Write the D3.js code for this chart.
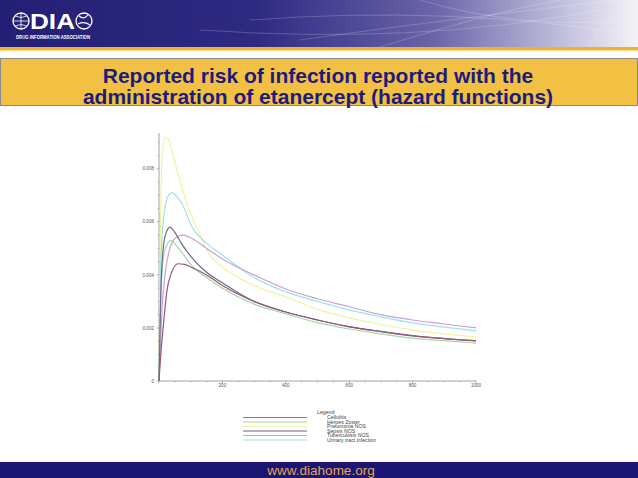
<!DOCTYPE html>
<html><head><meta charset="utf-8">
<script src="https://cdn.jsdelivr.net/npm/d3@7"></script>
<style>html,body{margin:0;padding:0;background:#fff;}svg{display:block;}</style>
</head><body>
<script>
const titleLines = ["Reported risk of infection reported with the", "administration of etanercept (hazard functions)"];
const seriesNames = ["Cellulitis", "Herpes Zoster", "Pneumonia NOS", "Sepsis NOS", "Tuberculosis NOS", "Urinary tract infection"];
const seriesColors = ["#b8687f", "#a2d9a2", "#f2f4a6", "#6a6490", "#c8a0d8", "#a2e0ea"];
const xTicks = [0, 200, 400, 600, 800, 1000];
const yTicks = [0, 0.002, 0.004, 0.006, 0.008];
const yTickLabels = ["0", "0.002", "0.004", "0.006", "0.008"];

const cellulitisX = [0, 5, 13, 25, 40, 60, 80, 100, 150, 200, 300, 400, 500, 600, 700, 800, 900, 1000];
const cellulitisY = [0, 0.0009, 0.0020, 0.0034, 0.0041, 0.00442, 0.0044, 0.0043, 0.0040, 0.0036, 0.0030, 0.0026, 0.0023, 0.00205, 0.00187, 0.00171, 0.0016, 0.00152];
const herpesX = [0, 5, 10, 20, 38, 55, 75, 100, 150, 200, 300, 400, 500, 600, 700, 800, 900, 1000];
const herpesY = [0, 0.0028, 0.0042, 0.0050, 0.0053, 0.0051, 0.0048, 0.0044, 0.0039, 0.0035, 0.0029, 0.00253, 0.0022, 0.00196, 0.00178, 0.00162, 0.00152, 0.00143];
const pneumoniaX = [0, 5, 10, 20, 30, 45, 60, 80, 100, 130, 160, 200, 300, 400, 500, 600, 700, 800, 900, 1000];
const pneumoniaY = [0, 0.0060, 0.0085, 0.0092, 0.0091, 0.0085, 0.0078, 0.0070, 0.0063, 0.0055, 0.00475, 0.0043, 0.0036, 0.00317, 0.0027, 0.00238, 0.00213, 0.00192, 0.00178, 0.00166];
const sepsisX = [0, 5, 10, 20, 35, 50, 70, 100, 150, 200, 300, 400, 500, 600, 700, 800, 900, 1000];
const sepsisY = [0, 0.0030, 0.0045, 0.0055, 0.0058, 0.0056, 0.0052, 0.0047, 0.0041, 0.0037, 0.0030, 0.0026, 0.0023, 0.00204, 0.00186, 0.0017, 0.0016, 0.00151];
const tbX = [0, 5, 10, 20, 30, 45, 60, 76, 100, 150, 200, 300, 400, 500, 600, 700, 800, 900, 1000];
const tbY = [0, 0.0015, 0.0028, 0.0041, 0.0048, 0.0053, 0.00545, 0.0055, 0.0054, 0.0050, 0.0046, 0.0040, 0.00347, 0.0031, 0.0028, 0.0025, 0.0023, 0.00215, 0.0020];
const utiX = [0, 5, 10, 20, 30, 41, 60, 80, 100, 150, 200, 300, 400, 500, 600, 700, 800, 900, 1000];
const utiY = [0, 0.0040, 0.0055, 0.0066, 0.0070, 0.0071, 0.0069, 0.0065, 0.0059, 0.0052, 0.00475, 0.0039, 0.00336, 0.0030, 0.00268, 0.00242, 0.00219, 0.00203, 0.00189];

const seriesX = [cellulitisX, herpesX, pneumoniaX, sepsisX, tbX, utiX];
const seriesY = [cellulitisY, herpesY, pneumoniaY, sepsisY, tbY, utiY];
const drawOrder = [2, 5, 4, 1, 3, 0];

const W = 638, H = 478;
const svg = d3.select("body").append("svg").attr("width", W).attr("height", H);
const defs = svg.append("defs");
const grad = defs.append("linearGradient").attr("id", "hdr").attr("x1", 0).attr("x2", 1).attr("y1", 0).attr("y2", 0);
grad.append("stop").attr("offset", "0").attr("stop-color", "#231f74");
grad.append("stop").attr("offset", "0.4").attr("stop-color", "#2e2a82");
grad.append("stop").attr("offset", "0.68").attr("stop-color", "#6a64a8");
grad.append("stop").attr("offset", "0.87").attr("stop-color", "#bcb9da");
grad.append("stop").attr("offset", "1").attr("stop-color", "#f4f4f8");

svg.append("rect").attr("x", 0).attr("y", 0).attr("width", W).attr("height", 47).attr("fill", "url(#hdr)");
const arcs = svg.append("g").attr("fill", "none").attr("stroke", "#ffffff").attr("stroke-opacity", 0.25).attr("stroke-width", 0.8);
arcs.append("path").attr("d", "M250,20 Q450,5 638,35");
arcs.append("path").attr("d", "M300,40 Q480,15 620,0");
arcs.append("path").attr("d", "M380,47 Q500,10 560,0");
arcs.append("path").attr("d", "M420,0 Q520,30 638,20");
arcs.append("path").attr("d", "M590,47 Q600,20 638,0");
arcs.append("path").attr("d", "M200,30 Q420,45 600,10");
svg.append("rect").attr("x", 0).attr("y", 47).attr("width", W).attr("height", 3.5).attr("fill", "#f2b32a");

const logo = svg.append("g");
logo.append("circle").attr("cx", 21).attr("cy", 21).attr("r", 8).attr("fill", "none").attr("stroke", "#fff").attr("stroke-width", 1.3);
logo.append("path").attr("d", "M13,21 H29 M21,13 V29 M15,16 Q21,19 27,16 M15,26 Q21,23 27,26").attr("stroke", "#fff").attr("stroke-width", 0.8).attr("fill", "none");
logo.append("text").attr("x", 30).attr("y", 29).attr("font-family", "Arial Black, Liberation Sans, Arial, sans-serif").attr("font-weight", "900").attr("font-size", 22).attr("fill", "#fff").attr("textLength", 45).attr("lengthAdjust", "spacingAndGlyphs").text("DIA");
logo.append("circle").attr("cx", 84).attr("cy", 21).attr("r", 8).attr("fill", "none").attr("stroke", "#fff").attr("stroke-width", 1.3);
logo.append("path").attr("d", "M79,16 Q84,20 88,15 M78,24 Q84,21 90,25").attr("stroke", "#fff").attr("stroke-width", 1.2).attr("fill", "none");
logo.append("text").attr("x", 16).attr("y", 39).attr("font-family", "Liberation Sans, Arial, sans-serif").attr("font-weight", "bold").attr("font-size", 4.6).attr("fill", "#fff").attr("textLength", 74).attr("lengthAdjust", "spacingAndGlyphs").text("DRUG INFORMATION ASSOCIATION");

svg.append("rect").attr("x", 0.5).attr("y", 58.5).attr("width", W - 1).attr("height", 47).attr("fill", "#f2c043").attr("stroke", "#8a8a8a").attr("stroke-width", 1);
svg.selectAll("text.title").data(titleLines).join("text").attr("class", "title")
  .attr("x", 318).attr("y", (d, i) => 83 + i * 21).attr("text-anchor", "middle")
  .attr("font-family", "Liberation Sans, Arial, sans-serif").attr("font-weight", "bold").attr("font-size", 21)
  .attr("fill", "#1c1c7e").text(d => d);

const x = d3.scaleLinear().domain([0, 1000]).range([159, 476]);
const y = d3.scaleLinear().domain([0, 0.00935]).range([381, 133]);
const axisCol = "#8c8c8c";
const g = svg.append("g");
const xMinor = d3.range(0, 1001, 50);
g.selectAll("line.xm").data(xMinor).join("line").attr("x1", d => x(d)).attr("x2", d => x(d)).attr("y1", 381).attr("y2", d => d % 200 === 0 ? 383.5 : 382.5).attr("stroke", axisCol).attr("stroke-width", 0.6);
const yMinor = d3.range(0, 0.0093, 0.0005);
g.selectAll("line.ym").data(yMinor).join("line").attr("x1", 159).attr("x2", (d, i) => i % 4 === 0 ? 156.5 : 157.5).attr("y1", d => y(d)).attr("y2", d => y(d)).attr("stroke", axisCol).attr("stroke-width", 0.6);
g.append("line").attr("x1", 159).attr("x2", 476).attr("y1", 381).attr("y2", 381).attr("stroke", axisCol).attr("stroke-width", 0.8);
g.append("line").attr("x1", 159).attr("x2", 159).attr("y1", 133).attr("y2", 381).attr("stroke", axisCol).attr("stroke-width", 0.8);
g.selectAll("text.yl").data(yTicks).join("text").attr("class", "yl").attr("x", 154).attr("y", d => y(d) + 1.6).attr("text-anchor", "end")
  .attr("font-family", "Liberation Sans, Arial, sans-serif").attr("font-size", 4.6).attr("fill", "#555").text((d, i) => yTickLabels[i]);
g.selectAll("text.xl").data(xTicks.slice(1)).join("text").attr("class", "xl").attr("x", d => x(d)).attr("y", 387).attr("text-anchor", "middle")
  .attr("font-family", "Liberation Sans, Arial, sans-serif").attr("font-size", 4.6).attr("fill", "#555").text(d => d);

const line = d3.line().x(d => x(d[0])).y(d => y(d[1])).curve(d3.curveMonotoneX);
const plotColors = ["#9a5676", "#a2d9a2", "#f0f3a0", "#6e6890", "#c8a0d8", "#a2e0ea"];
drawOrder.forEach(i => {
  const pts = seriesX[i].map((v, k) => [v, seriesY[i][k]]);
  g.append("path").attr("d", line(pts)).attr("fill", "none").attr("stroke", plotColors[i]).attr("stroke-width", 1.2);
});

const lg = svg.append("g");
lg.append("text").attr("x", 317).attr("y", 413.5).attr("font-family", "Liberation Sans, Arial, sans-serif").attr("font-size", 5.2).attr("fill", "#444").text("Legend");
seriesNames.forEach((n, i) => {
  const yy = 417.5 + i * 4.5;
  lg.append("line").attr("x1", 243).attr("x2", 307).attr("y1", yy).attr("y2", yy).attr("stroke", seriesColors[i]).attr("stroke-width", 1);
  lg.append("text").attr("x", 327).attr("y", yy + 1.8).attr("font-family", "Liberation Sans, Arial, sans-serif").attr("font-size", 5.2).attr("fill", "#444").text(n);
});

svg.append("rect").attr("x", 0).attr("y", 462).attr("width", W).attr("height", 16).attr("fill", "#1a1674");
svg.append("text").attr("x", 321).attr("y", 475).attr("text-anchor", "middle").attr("font-family", "Liberation Sans, Arial, sans-serif").attr("font-size", 13.5).attr("fill", "#e3a458").text("www.diahome.org");
</script>
</body></html>
